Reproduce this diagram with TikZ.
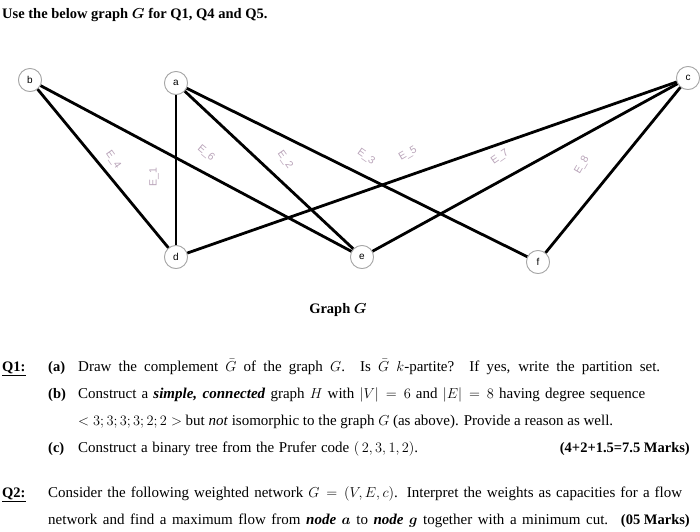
\documentclass[tikz,border=0pt]{standalone}
\usepackage{amsmath}
\usepackage{fontspec}
\setmainfont{Liberation Serif}
\setsansfont{Liberation Sans}
\newcommand{\wl}[2]{\hbox to #1pt{#2}}
\begin{document}
\begin{tikzpicture}[x=1pt,y=-1pt,
  vert/.style={circle,draw=gray!70,line width=0.8pt,fill=white,minimum size=23pt,inner sep=0pt,font=\sffamily\fontsize{10}{10}\selectfont},
  edge/.style={line width=2.8pt,black},
  elab/.style={font=\sffamily\fontsize{10.5}{10}\selectfont,text=violet!30!gray!55},
  txt/.style={anchor=base west,inner sep=0pt,font=\fontsize{15}{16}\selectfont},
  btxt/.style={txt,font=\bfseries\fontsize{14.5}{16}\selectfont}]
\useasboundingbox (0,0) rectangle (700,531);
\node[btxt] (t0) at (2,18) {Use the below graph $\boldsymbol{G}$ for Q1, Q4 and Q5.};
\node[vert] (b) at (30,80) {b};
\node[vert] (a) at (176,83) {a};
\node[vert] (c) at (688,78) {c};
\node[vert] (d) at (176,257) {d};
\node[vert] (e) at (362,257) {e};
\node[vert] (f) at (538,262) {f};
\draw[edge] (b) -- (d);
\draw[edge] (b) -- (e);
\draw[edge] (a) -- (d);
\draw[edge] (a) -- (e);
\draw[edge] (a) -- (f);
\draw[edge] (c) -- (d);
\draw[edge] (c) -- (e);
\draw[edge] (c) -- (f);
\foreach \n in {b,a,c,d,e,f}{\node[vert] at (\n) {\n};}
\node[elab,rotate=-55] (l4) at (113,160) {E\_4};
\node[elab,rotate=90] (l1) at (154,177) {E\_1};
\node[elab,rotate=-40] (l6) at (206,153) {E\_6};
\node[elab,rotate=-55] (l2) at (285,160) {E\_2};
\node[elab,rotate=-35] (l3) at (366,157) {E\_3};
\node[elab,rotate=30] (l5) at (408,154) {E\_5};
\node[elab,rotate=35] (l7) at (500,157) {E\_7};
\node[elab,rotate=60] (l8) at (582,165) {E\_8};
\node[font=\bfseries\fontsize{14.5}{16}\selectfont] (cap) at (338,310) {Graph $\boldsymbol{G}$};
\node[btxt] (q1) at (2,371) {\underline{Q1:}};
\node[btxt] (qa0) at (48,371) {(a)};
\node[txt] (qa) at (78,371) {\wl{582}{Draw the complement $\bar{G}$ of the graph $G$. Is $\bar{G}$ $k$-partite? If yes, write the partition set.}};
\node[btxt] (qb0) at (48,398) {(b)};
\node[txt] (qb) at (78,398) {\wl{567}{Construct a \textbf{\textit{simple, connected}} graph $H$ with $|V|=6$ and $|E|=8$ having degree sequence}};
\node[txt] (qb2) at (78,425) {\wl{535}{$<3;3;3;3;2;2>$ but \textit{not} isomorphic to the graph $G$ (as above). Provide a reason as well.}};
\node[btxt] (qc0) at (48,452) {(c)};
\node[txt] (qc) at (78,452) {\wl{340}{Construct a binary tree from the Prufer code $(\,2,3,1,2)$.}};
\node[btxt,anchor=base east] (m1) at (690,452) {(4+2+1.5=7.5 Marks)};
\node[btxt] (q2) at (2,497) {\underline{Q2:}};
\node[txt] (q2a) at (48,497) {\wl{634}{Consider the following weighted network $G=(V,E,c)$. Interpret the weights as capacities for a flow}};
\node[txt] (q2b) at (48,524) {\wl{560}{network and find a maximum flow from \textbf{\textit{node $\boldsymbol{a}$}} to \textbf{\textit{node $\boldsymbol{g}$}} together with a minimum cut.}};
\node[btxt,anchor=base east] (m2) at (690,524) {(05 Marks)};
\end{tikzpicture}
\end{document}
